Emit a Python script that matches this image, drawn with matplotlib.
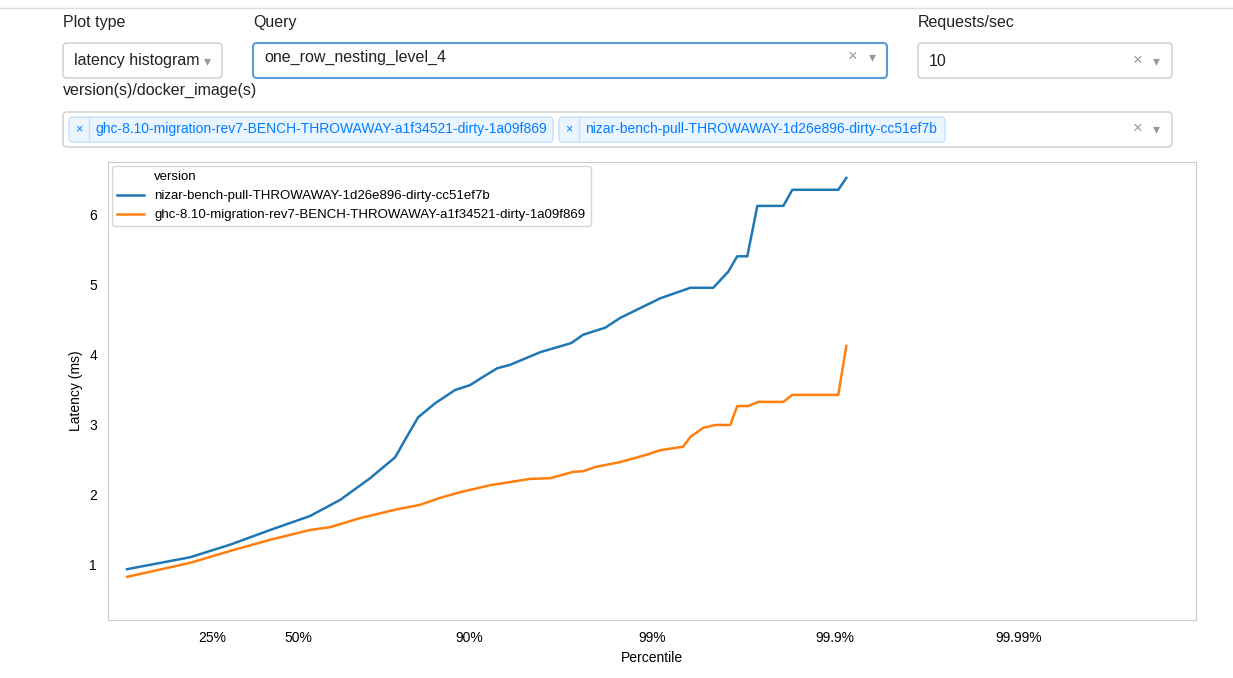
import matplotlib.pyplot as plt
from matplotlib.patches import FancyBboxPatch
from matplotlib.lines import Line2D

plt.rcParams['font.family'] = ['Liberation Sans', 'DejaVu Sans']

# percentile axis position (log-ish scale) and latency in ms
blue_x = [-0.869, -0.525, -0.306, -0.087, 0.131, 0.295, 0.459, 0.596, 0.650, 0.721, 0.814, 0.923,
          1.005, 1.077, 1.153, 1.224, 1.388, 1.557, 1.623, 1.743, 1.825, 1.934, 2.044, 2.142, 2.208,
          2.333, 2.415, 2.464, 2.519, 2.574, 2.716, 2.765, 3.016, 3.060]
blue_y = [0.94, 1.11, 1.29, 1.50, 1.70, 1.93, 2.24, 2.54, 2.79, 3.11, 3.31, 3.50,
          3.57, 3.69, 3.81, 3.86, 4.04, 4.17, 4.29, 4.39, 4.53, 4.67, 4.81, 4.90, 4.96,
          4.96, 5.19, 5.41, 5.41, 6.13, 6.13, 6.36, 6.36, 6.53]
orange_x = [-0.869, -0.525, -0.306, -0.087, 0.131, 0.240, 0.404, 0.596, 0.732, 0.842, 0.951, 1.115,
            1.333, 1.443, 1.568, 1.623, 1.689, 1.825, 1.962, 2.044, 2.169, 2.208, 2.279, 2.344,
            2.426, 2.464, 2.524, 2.579, 2.716, 2.765, 3.016, 3.060]
orange_y = [0.83, 1.03, 1.20, 1.36, 1.50, 1.54, 1.67, 1.79, 1.86, 1.96, 2.04, 2.14,
            2.23, 2.24, 2.33, 2.34, 2.40, 2.47, 2.57, 2.64, 2.69, 2.83, 2.96, 3.00,
            3.00, 3.27, 3.27, 3.33, 3.33, 3.43, 3.43, 4.13]
tick_pos = [-0.404, 0.066, 1, 2, 3, 4]
tick_labels = ["25%", "50%", "90%", "99%", "99.9%", "99.99%"]
blue_name = "nizar-bench-pull-THROWAWAY-1d26e896-dirty-cc51ef7b"
orange_name = "ghc-8.10-migration-rev7-BENCH-THROWAWAY-a1f34521-dirty-1a09f869"

fig = plt.figure(figsize=(12.33, 6.78), dpi=100)

# UI overlay in pixel coords
ui = fig.add_axes([0, 0, 1, 1])
ui.set_xlim(0, 1233)
ui.set_ylim(678, 0)
ui.axis("off")
ui.plot([0, 1233], [8, 8], color="#dddddd", lw=1)

def box(x0, y0, x1, y1, ec="#cccccc", fc="white", lw=1):
    ui.add_patch(FancyBboxPatch((x0, y0), x1 - x0, y1 - y0, boxstyle="round,pad=0,rounding_size=4",
                                ec=ec, fc=fc, lw=lw))

lab = dict(fontsize=11.5, color="#222222", va="center")
ui.text(63, 22, "Plot type", **lab)
ui.text(253, 22, "Query", **lab)
ui.text(918, 22, "Requests/sec", **lab)
ui.text(63, 90, "version(s)/docker_image(s)", **lab)

box(63, 43, 222, 78)
ui.text(74, 61, "latency histogram", **lab)
box(253, 43, 887, 78, ec="#5b9bd5", lw=1.5)
ui.text(264, 57, "one_row_nesting_level_4", **lab)
box(918, 43, 1172, 78)
ui.text(929, 61, "10", **lab)
for xc, yc in [(853, 56), (1138, 60)]:
    ui.text(xc, yc, "×", fontsize=12, color="#999999", va="center", ha="center")
for xa, ya in [(207, 61), (872, 57), (1156, 61)]:
    ui.text(xa, ya, "▾", fontsize=10, color="#999999", va="center", ha="center")

box(63, 112, 1172, 147)
for x0, x1, name in [(69, 553, orange_name), (559, 945, blue_name)]:
    box(x0, 117, x1, 142, ec="#c2e0ff", fc="#ebf5ff")
    ui.plot([x0 + 20, x0 + 20], [117, 142], color="#c2e0ff", lw=1)
    ui.text(x0 + 10, 129.5, "×", fontsize=9, color="#007eff", va="center", ha="center")
    ui.text(x0 + 26, 129.5, name, fontsize=10, color="#007eff", va="center")
ui.text(1138, 128.5, "×", fontsize=12, color="#999999", va="center", ha="center")
ui.text(1156, 129.5, "▾", fontsize=10, color="#999999", va="center", ha="center")

# chart
ax = fig.add_axes([108 / 1233, 58 / 678, 1088 / 1233, 458 / 678])
ax.plot(blue_x, blue_y, color="#1f77b4", lw=1.8)
ax.plot(orange_x, orange_y, color="#ff7f0e", lw=1.8)
ax.set_xlim(-0.973, 4.97)
ax.set_ylim(0.214, 6.757)
ax.set_xticks(tick_pos)
ax.set_xticklabels(tick_labels)
ax.set_yticks([1, 2, 3, 4, 5, 6])
ax.tick_params(length=0, labelsize=10, pad=8)
for s in ax.spines.values():
    s.set_color("#cccccc")
ax.set_xlabel("Percentile", fontsize=10)
ax.set_ylabel("Latency (ms)", fontsize=10)

handles = [Line2D([], [], color="none"),
           Line2D([], [], color="#1f77b4", lw=1.8),
           Line2D([], [], color="#ff7f0e", lw=1.8)]
ax.legend(handles, ["version", blue_name, orange_name], loc="upper left", fontsize=9.5,
          borderaxespad=0.3, framealpha=0.8)

fig.savefig("out.png", dpi=100)
